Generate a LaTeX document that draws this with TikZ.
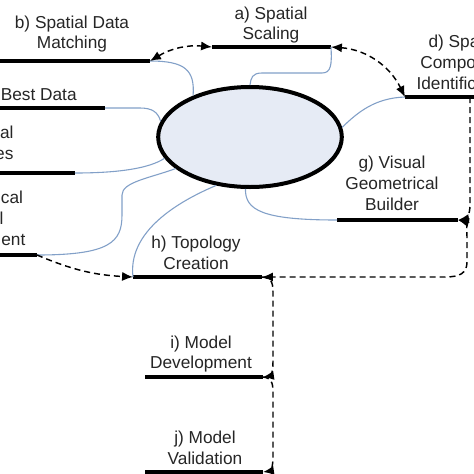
\documentclass[tikz,border=0pt]{standalone}
\usepackage{fontspec}
\setmainfont{Liberation Sans}
\usetikzlibrary{arrows.meta,shapes.geometric}
\definecolor{linkblue}{RGB}{130,160,200}
\definecolor{hubfill}{RGB}{230,235,245}
\begin{document}
\begin{tikzpicture}[x=0.55pt,y=-0.55pt,
  lbl/.style={align=center,inner sep=0pt,font=\fontsize{9.5}{11.5}\selectfont,text=black!85},
  uline/.style={line width=2.2pt},
  conn/.style={draw=linkblue,line width=0.6pt},
  flowone/.style={line width=0.8pt,dash pattern=on 3.3pt off 2.2pt,-{Latex[length=6pt,width=5pt]}},
  flowtwo/.style={line width=0.8pt,dash pattern=on 3.3pt off 2.2pt,{Latex[length=6pt,width=5pt]}-{Latex[length=6pt,width=5pt]}}
]
\useasboundingbox (0,0) rectangle (474,474);
\fill[white] (0,0) rectangle (474,474);
\clip (0,0) rectangle (474,474);

% underline end points
\coordinate (bL) at (-5,61);   \coordinate (bR) at (150,61);
\coordinate (aL) at (212,47);  \coordinate (aR) at (331,47);
\coordinate (dL) at (405,97);  \coordinate (dR) at (480,97);
\coordinate (cL) at (-5,108);  \coordinate (cR) at (105,108);
\coordinate (eL) at (-5,173);  \coordinate (eR) at (75,173);
\coordinate (fL) at (-5,255);  \coordinate (fR) at (37,255);
\coordinate (gL) at (337,220); \coordinate (gR) at (458,220);
\coordinate (hL) at (133,277); \coordinate (hR) at (262,277);
\coordinate (iL) at (145,377); \coordinate (iR) at (263,377);
\coordinate (jL) at (145,472); \coordinate (jR) at (263,472);
\coordinate (dV) at (470,97);

% central hub
\node[ellipse,draw,line width=2.2pt,fill=hubfill,minimum width=101pt,minimum height=55pt,inner sep=0pt] (hub) at (250,137) {};

% labels
\node[lbl] (b) at (72,34) {b) Spatial Data\\Matching};
\node[lbl] (a) at (271,25) {a) Spatial\\Scaling};
\node[lbl] (d) at (465,62) {d) Spatial\\Component\\Identification};
\node[lbl,anchor=base east] (c) at (77,100) {c) Best Data};
\node[lbl] (e) at (-23,143) {e) Spatial\\Attributes};
\node[lbl] (f) at (-13,220) {f) Vertical\\Wall\\Alignment};
\node[lbl] (g) at (392,183) {g) Visual\\Geometrical\\Builder};
\node[lbl] (h) at (196,253) {h) Topology\\Creation};
\node[lbl] (i) at (201,354) {i) Model\\Development};
\node[lbl] (j) at (205,448) {j) Model\\Validation};

% underlines
\draw[uline] (bL) -- (bR);
\draw[uline] (aL) -- (aR);
\draw[uline] (dL) -- (dR);
\draw[uline] (cL) -- (cR);
\draw[uline] (eL) -- (eR);
\draw[uline] (fL) -- (fR);
\draw[uline] (gL) -- (gR);
\draw[uline] (hL) -- (hR);
\draw[uline] (iL) -- (iR);
\draw[uline] (jL) -- (jR);

% thin connectors to the hub
\draw[conn] (hub.144) .. controls (195,70) and (185,61) .. (bR);
\draw[conn] (hub.90) .. controls (251,78) and (252,73) .. (262,73) -- (322,73) .. controls (331,73) and (332,65) .. (aR);
\draw[conn] (cR) -- (140,108) .. controls (152,108) and (158,112) .. (hub.170);
\draw[conn] (dL) .. controls (375,98) and (358,112) .. (hub.6);
\draw[conn] (eR) .. controls (120,173) and (150,168) .. (hub.194);
\draw[conn] (fR) .. controls (110,255) and (122,242) .. (122,215) -- (122,195) .. controls (122,182) and (150,178) .. (hub.203);
\draw[conn] (hL) .. controls (128,235) and (170,205) .. (hub.235);
\draw[conn] (gL) .. controls (262,220) and (245,210) .. (hub.265);

% dashed flows
\draw[flowtwo] (bR) to[bend left=18] (aL);
\draw[flowtwo] (aR) to[bend left=30] (dL);
\draw[flowone] (fR) to[bend right=10] (hL);
\draw[flowone] (dV) -- (470,205) .. controls (470,215) and (466,219) .. (gR);
\draw[flowtwo] (gR) .. controls (466,222) and (467,228) .. (467,238) -- (467,262) .. controls (467,273) and (460,277) .. (445,277) -- (hR);
\draw[flowone] (hR) .. controls (271,278) and (273,282) .. (273,292) -- (273,362) .. controls (273,372) and (270,376) .. (iR);
\draw[flowone] (iR) .. controls (271,378) and (273,382) .. (273,392) -- (273,458) .. controls (273,467) and (270,471) .. (jR);
\end{tikzpicture}
\end{document}
